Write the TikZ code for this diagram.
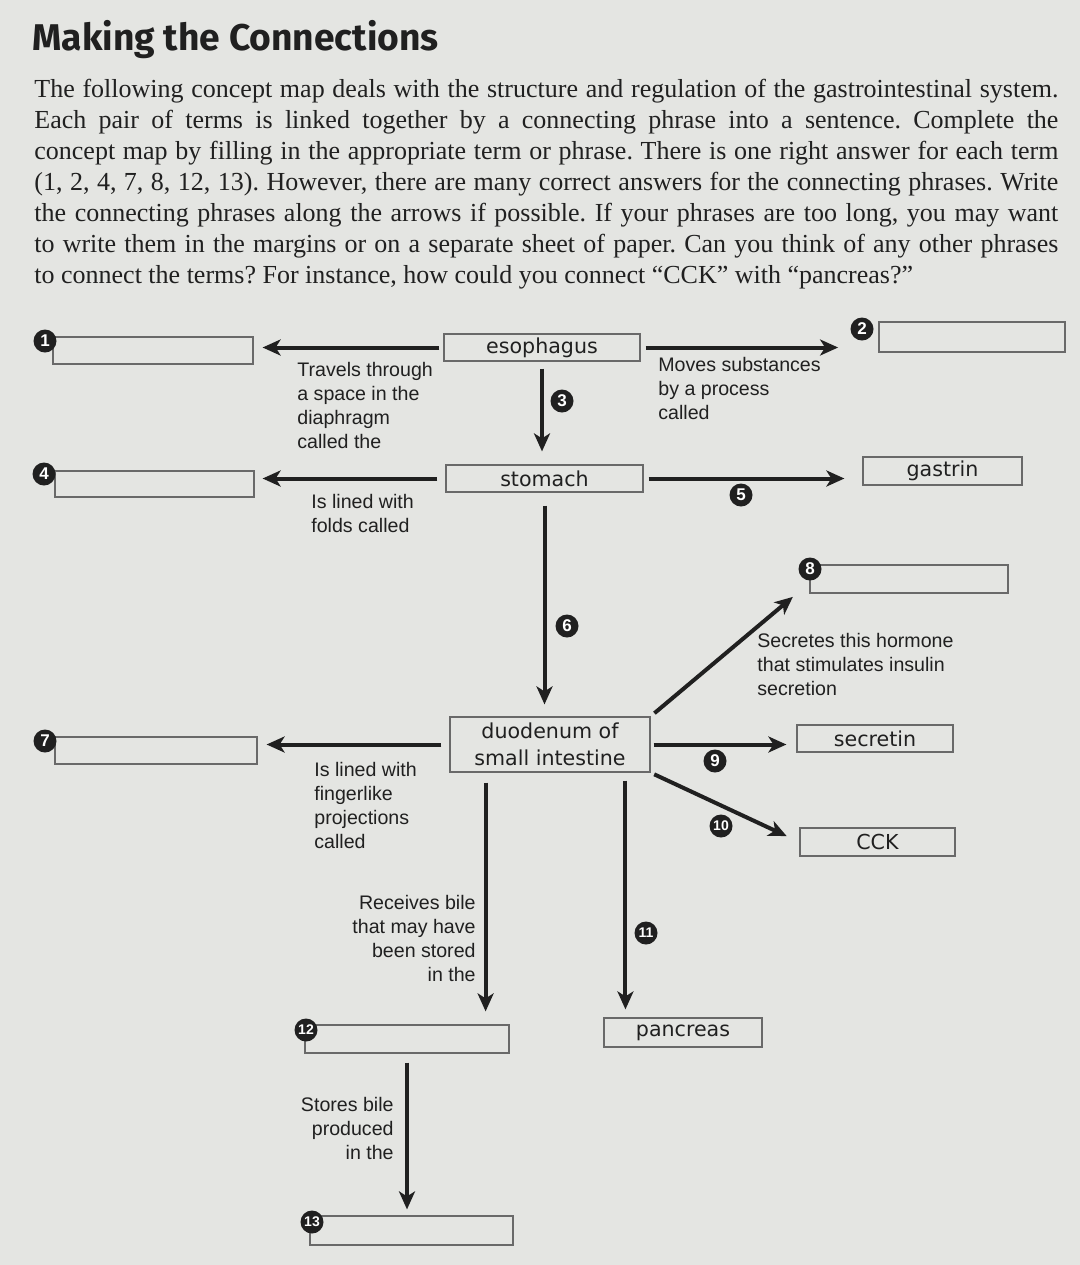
\documentclass[tikz,border=0pt]{standalone}
\usepackage{fontspec}
\setmainfont{Liberation Serif}
\newfontfamily\labelfont{Liberation Sans}
\newfontfamily\termfont{DejaVu Sans}
\newfontfamily\titlefont{Fira Sans}
\usetikzlibrary{arrows.meta,calc}
\definecolor{paper}{RGB}{228,229,226}
\definecolor{ink}{RGB}{32,32,32}
\definecolor{boxline}{RGB}{105,105,105}
\frenchspacing
\begin{document}
\begin{tikzpicture}[x=0.5pt,y=-0.5pt,
  box/.style={draw=boxline,line width=0.6pt,inner sep=0pt,align=center,
    font=\termfont\fontsize{10.3}{13.5}\selectfont,text=ink},
  badge/.style={circle,fill=ink,text=white,inner sep=0pt,minimum size=11.5pt,
    font=\labelfont\bfseries\fontsize{8.5}{8.5}\selectfont},
  badgetwo/.style={badge,font=\labelfont\bfseries\fontsize{7}{7}\selectfont},
  arr/.style={draw=ink,line width=2pt,-{Stealth[length=9pt,width=8pt,inset=2.5pt]}},
  lab/.style={font=\labelfont\fontsize{9.8}{12}\selectfont,text=ink,inner sep=0pt},
  para/.style={anchor=base west,inner sep=0pt,text=ink,font=\fontsize{13}{15}\selectfont},
]
\fill[paper] (0,0) rectangle (1080,1265);
\useasboundingbox (0,0) rectangle (1080,1265);

% title and instructions
\node[anchor=base west,inner sep=0pt,text=ink,font=\titlefont\bfseries\fontsize{18.6}{21}\selectfont] (title) at (32,50) {Making the Connections};
\node[para] (p1) at (34,97)  {\makebox[512pt][s]{The following concept map deals with the structure and regulation of the gastrointestinal system.}};
\node[para] (p2) at (34,128) {\makebox[512pt][s]{Each pair of terms is linked together by a connecting phrase into a sentence. Complete the}};
\node[para] (p3) at (34,159) {\makebox[512pt][s]{concept map by filling in the appropriate term or phrase. There is one right answer for each term}};
\node[para] (p4) at (34,190) {\makebox[512pt][s]{(1, 2, 4, 7, 8, 12, 13). However, there are many correct answers for the connecting phrases. Write}};
\node[para] (p5) at (34,221) {\makebox[512pt][s]{the connecting phrases along the arrows if possible. If your phrases are too long, you may want}};
\node[para] (p6) at (34,252) {\makebox[512pt][s]{to write them in the margins or on a separate sheet of paper. Can you think of any other phrases}};
\node[para] (p7) at (34,283) {to connect the terms? For instance, how could you connect “CCK” with “pancreas?”};

% term boxes
\node[box,minimum width=100pt,minimum height=13.5pt] (b1)  at (153,350.5) {};
\node[box,minimum width=98pt,minimum height=13.5pt]  (eso) at (542,347.5) {esophagus};
\node[box,minimum width=93pt,minimum height=15pt]    (b2)  at (972,337) {};
\node[box,minimum width=99.5pt,minimum height=13pt]  (b4)  at (154.5,484) {};
\node[box,minimum width=98.5pt,minimum height=13.5pt](sto) at (544.5,478.5) {stomach};
\node[box,minimum width=79.5pt,minimum height=14pt]  (gas) at (942.5,471) {gastrin};
\node[box,minimum width=99pt,minimum height=14pt]    (b8)  at (909,579) {};
\node[box,minimum width=100pt,minimum height=27.5pt] (duo) at (550,744.5) {duodenum of\\small intestine};
\node[box,minimum width=78pt,minimum height=13.5pt]  (sec) at (875,738.5) {secretin};
\node[box,minimum width=77.5pt,minimum height=14pt]  (cck) at (877.5,842) {CCK};
\node[box,minimum width=101pt,minimum height=13.5pt] (b7)  at (156,750.5) {};
\node[box,minimum width=102pt,minimum height=14pt]   (b12) at (407,1039) {};
\node[box,minimum width=79pt,minimum height=14.5pt]  (pan) at (683,1032.5) {pancreas};
\node[box,minimum width=101.5pt,minimum height=14.5pt](b13) at (411.5,1230.5) {};

% numbered badges
\node[badge] (n1) at (45,341) {1};
\node[badge] (n2) at (862,329) {2};
\node[badge] (n3) at (562,401) {3};
\node[badge] (n4) at (44,474) {4};
\node[badge] (n5) at (741,495) {5};
\node[badge] (n6) at (567,626) {6};
\node[badge] (n7) at (45,741) {7};
\node[badge] (n8) at (810,569) {8};
\node[badge] (n9) at (715,761) {9};
\node[badgetwo] (n10) at (721,826) {10};
\node[badgetwo] (n11) at (646,933) {11};
\node[badgetwo] (n12) at (306,1030) {12};
\node[badgetwo] (n13) at (312,1222) {13};

% connecting phrases
\node[lab,anchor=north west,align=left] (l1) at (297,362) {Travels through\\a space in the\\diaphragm\\called the};
\node[lab,anchor=north west,align=left] (l2) at (658,357) {Moves substances\\by a process\\called};
\node[lab,anchor=north west,align=left] (l4) at (311,494) {Is lined with\\folds called};
\node[lab,anchor=north west,align=left] (l8) at (757,633) {Secretes this hormone\\that stimulates insulin\\secretion};
\node[lab,anchor=north west,align=left] (l7) at (314,762) {Is lined with\\fingerlike\\projections\\called};
\node[lab,anchor=north east,align=right] (l12) at (476,895) {Receives bile\\that may have\\been stored\\in the};
\node[lab,anchor=north east,align=right] (l13) at (394,1097) {Stores bile\\produced\\in the};

% connectors
\draw[arr,shorten <=2pt,shorten >=4.5pt] (eso.west) -- (eso.west -| b1.east);
\draw[arr,shorten <=2.5pt,shorten >=6pt] (eso.east) -- (eso.east -| n2.west);
\draw[arr,shorten <=3.5pt,shorten >=6.5pt] (eso.south) -- (eso.south |- sto.north);
\draw[arr,shorten <=4pt,shorten >=4pt] (sto.west) -- (sto.west -| b4.east);
\draw[arr,shorten <=2.5pt,shorten >=9pt] (sto.east) -- (sto.east -| gas.west);
\draw[arr,shorten <=6.5pt,shorten >=6pt] (sto.south) -- (sto.south |- duo.north);
\draw[arr,shorten <=2.5pt,shorten >=1pt] (duo.north east) -- ([xshift=-7.5pt,yshift=-1pt]b8.south west);
\draw[arr,shorten <=1.5pt,shorten >=5pt] (duo.east) -- (duo.east -| sec.west);
\draw[arr,shorten <=2pt,shorten >=7pt] (duo.south east) -- (cck.west);
\draw[arr,shorten <=4pt,shorten >=4.5pt] (duo.west) -- (duo.west -| b7.east);
\coordinate (dl) at ($(duo.south west)!0.18!(duo.south east)$);
\coordinate (dr) at ($(duo.south west)!0.875!(duo.south east)$);
\draw[arr,shorten <=5pt,shorten >=6.5pt] (dl) -- (dl |- b12.north);
\draw[arr,shorten <=4pt,shorten >=4pt] (dr) -- (dr |- pan.north);
\draw[arr,shorten <=4.5pt,shorten >=3pt] (b12.south) -- (b12.south |- b13.north);
\end{tikzpicture}
\end{document}
